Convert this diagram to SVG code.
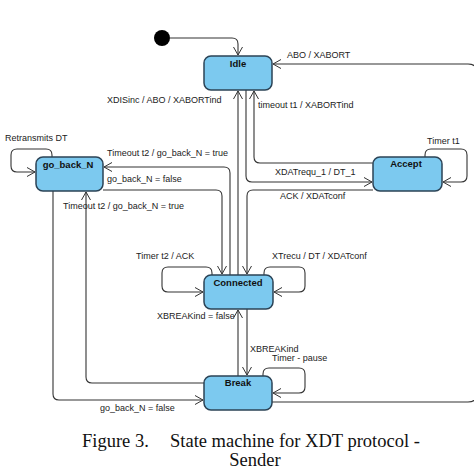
<svg xmlns="http://www.w3.org/2000/svg" width="474" height="470" viewBox="0 0 474 470">
<defs>
<marker id="arr" markerUnits="userSpaceOnUse" markerWidth="12" markerHeight="12" refX="9" refY="5" orient="auto">
<path d="M1,0.5 L9,5 L1,9.5" fill="none" stroke="#333" stroke-width="1"/>
</marker>
<style>
.st{fill:#7cc9ef;stroke:#2b4356;stroke-width:1.5}
.nl{font-family:"Liberation Sans",Arial,sans-serif;font-size:9.5px;font-weight:bold;fill:#111;text-anchor:middle}
.c{fill:none;stroke:#333;stroke-width:1.1}
.a{marker-end:url(#arr)}
.lb{font-family:"Liberation Sans",Arial,sans-serif;font-size:9px;fill:#222}
.cap{font-family:"Liberation Serif","Times New Roman",serif;font-size:18.5px;fill:#111}
</style>
</defs>
<rect width="474" height="470" fill="#fff"/>
<g id="connectors">
<path class="c a" d="M170,38 H232 Q238,38 238,44 V55"/>
<path class="c a" d="M272,402 H468 Q477,402 477,394 V72 Q477,64 468,64 H273"/>
<path class="c a" d="M238,275 V91"/>
<path class="c a" d="M373,163 H260 Q254,163 254,157 V91"/>
<path class="c a" d="M246,90 V176 Q246,182 252,182 H372"/>
<path class="c a" d="M373,190 H253 Q247,190 247,196 V274"/>
<path class="c a" d="M230,275 V173 Q230,167 224,167 H104"/>
<path class="c a" d="M103,190 H216 Q222,190 222,196 V274"/>
<path class="c a" d="M204,383 H92 Q86,383 86,377 V192"/>
<path class="c a" d="M53,191 V394 Q53,400 59,400 H203"/>
<path class="c a" d="M52,157 V155 Q52,149 46,149 H17 Q11,149 11,155 V166 Q11,172 17,172 H35"/>
<path class="c a" d="M425,157 V155 Q425,149 431,149 H461 Q467,149 467,155 V176 Q467,182 461,182 H443"/>
<path class="c a" d="M212,275 V273 Q212,267 206,267 H168 Q162,267 162,273 V286 Q162,292 168,292 H203"/>
<path class="c a" d="M264,275 V273 Q264,267 270,267 H299 Q305,267 305,273 V286 Q305,292 299,292 H274"/>
<path class="c a" d="M238,376 V310"/>
<path class="c a" d="M247,309 V375"/>
<path class="c a" d="M263,376 V374 Q263,368 269,368 H299 Q305,368 305,374 V387 Q305,393 299,393 H273"/>
<text class="lb" x="287" y="58">ABO / XABORT</text>
<text class="lb" x="107" y="103">XDISinc  / ABO / XABORTind</text>
<text class="lb" x="258" y="108">timeout t1 / XABORTind</text>
<text class="lb" x="107" y="156">Timeout t2 / go_back_N = true</text>
<text class="lb" x="107" y="182">go_back_N = false</text>
<text class="lb" x="63" y="209">Timeout t2 / go_back_N = true</text>
<text class="lb" x="5" y="141">Retransmits DT</text>
<text class="lb" x="427" y="144">Timer t1</text>
<text class="lb" x="275" y="175">XDATrequ_1 / DT_1</text>
<text class="lb" x="280" y="199">ACK / XDATconf</text>
<text class="lb" x="136" y="259">Timer t2 / ACK</text>
<text class="lb" x="272" y="259">XTrecu / DT / XDATconf</text>
<text class="lb" x="157" y="319">XBREAKind = false</text>
<text class="lb" x="250" y="352">XBREAKind</text>
<text class="lb" x="272" y="361">Timer - pause</text>
<text class="lb" x="100" y="411">go_back_N = false</text>
</g>
<g id="initial"><circle cx="162" cy="38" r="8" fill="#000"/></g>
<g id="idle"><rect class="st" x="204" y="56" width="68" height="34" rx="7"/><text class="nl" x="238" y="67">Idle</text></g>
<g id="go_back_N"><rect class="st" x="36" y="157" width="67" height="34" rx="7"/><text class="nl" x="68" y="168">go_back_N</text></g>
<g id="accept"><rect class="st" x="373" y="157" width="69" height="34" rx="7"/><text class="nl" x="406" y="167">Accept</text></g>
<g id="connected"><rect class="st" x="204" y="275" width="69" height="34" rx="7"/><text class="nl" x="238" y="286">Connected</text></g>
<g id="break"><rect class="st" x="204" y="376" width="68" height="34" rx="7"/><text class="nl" x="238" y="386">Break</text></g>
<g id="caption">
<text class="cap" x="82" y="447">Figure 3.</text>
<text class="cap" x="170" y="447">State machine for XDT protocol -</text>
<text class="cap" x="255" y="466" text-anchor="middle">Sender</text>
</g>
</svg>
